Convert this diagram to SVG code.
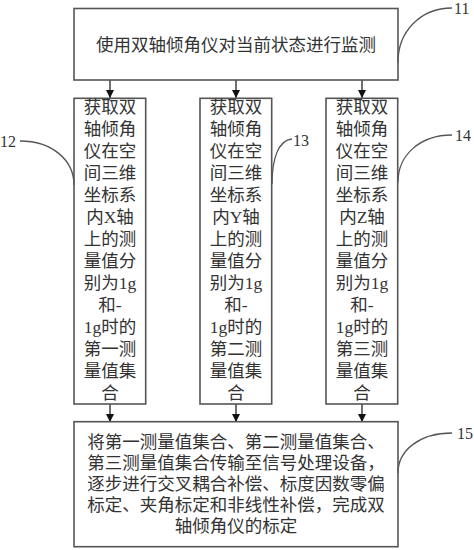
<svg xmlns="http://www.w3.org/2000/svg" width="474" height="550" viewBox="0 0 474 550">
<style>
.box{fill:#fff;stroke:#555;stroke-width:1.6}
.t{font-family:"Liberation Serif","Noto Sans CJK SC",serif;font-size:17.5px;fill:#333;text-anchor:middle}
.lbl{font-family:"Liberation Serif",serif;font-size:16px;fill:#333}
.c{fill:none;stroke:#555;stroke-width:1.3}
.a{fill:none;stroke:#222;stroke-width:1.3}
</style>
<defs>
<marker id="ah" markerWidth="8" markerHeight="8" refX="8" refY="4" orient="auto" markerUnits="userSpaceOnUse">
<path d="M0,0 L8,4 L0,8 Z" fill="#111"/>
</marker>
</defs>
<rect width="474" height="550" fill="#fff"/>
<g id="connectors">
<line class="a" x1="110" y1="80" x2="110" y2="98" marker-end="url(#ah)"/>
<line class="a" x1="236" y1="80" x2="236" y2="98" marker-end="url(#ah)"/>
<line class="a" x1="362" y1="80" x2="362" y2="98" marker-end="url(#ah)"/>
<line class="a" x1="110" y1="404" x2="110" y2="422" marker-end="url(#ah)"/>
<line class="a" x1="236" y1="404" x2="236" y2="422" marker-end="url(#ah)"/>
<line class="a" x1="362" y1="404" x2="362" y2="422" marker-end="url(#ah)"/>
</g>
<g id="node11">
<rect class="box" x="74" y="8.5" width="324" height="71.5"/>
<text class="t" x="236" y="51">使用双轴倾角仪对当前状态进行监测</text>
<path class="c" d="M398,62 C398,32 420,8 452,8"/>
<text class="lbl" x="454" y="14">11</text>
</g>
<g id="node12">
<rect class="box" x="74" y="98.3" width="71.7" height="305.7"/>
<text class="t" x="110" y="113">获取双</text>
<text class="t" x="110" y="135">轴倾角</text>
<text class="t" x="110" y="157">仪在空</text>
<text class="t" x="110" y="179">间三维</text>
<text class="t" x="110" y="201">坐标系</text>
<text class="t" x="110" y="223">内X轴</text>
<text class="t" x="110" y="245">上的测</text>
<text class="t" x="110" y="267">量值分</text>
<text class="t" x="110" y="289">别为1g</text>
<text class="t" x="110" y="311">和-</text>
<text class="t" x="110" y="333">1g时的</text>
<text class="t" x="110" y="355">第一测</text>
<text class="t" x="110" y="377">量值集</text>
<text class="t" x="110" y="399">合</text>
<path class="c" d="M20,141 C52,141 74,160 74,185"/>
<text class="lbl" x="0" y="147">12</text>
</g>
<g id="node13">
<rect class="box" x="200" y="98.3" width="71.7" height="305.7"/>
<text class="t" x="236" y="113">获取双</text>
<text class="t" x="236" y="135">轴倾角</text>
<text class="t" x="236" y="157">仪在空</text>
<text class="t" x="236" y="179">间三维</text>
<text class="t" x="236" y="201">坐标系</text>
<text class="t" x="236" y="223">内Y轴</text>
<text class="t" x="236" y="245">上的测</text>
<text class="t" x="236" y="267">量值分</text>
<text class="t" x="236" y="289">别为1g</text>
<text class="t" x="236" y="311">和-</text>
<text class="t" x="236" y="333">1g时的</text>
<text class="t" x="236" y="355">第二测</text>
<text class="t" x="236" y="377">量值集</text>
<text class="t" x="236" y="399">合</text>
<path class="c" d="M272,184 C272,160 278,140 292,139"/>
<text class="lbl" x="293" y="146">13</text>
</g>
<g id="node14">
<rect class="box" x="326" y="98.3" width="71.7" height="305.7"/>
<text class="t" x="362" y="113">获取双</text>
<text class="t" x="362" y="135">轴倾角</text>
<text class="t" x="362" y="157">仪在空</text>
<text class="t" x="362" y="179">间三维</text>
<text class="t" x="362" y="201">坐标系</text>
<text class="t" x="362" y="223">内Z轴</text>
<text class="t" x="362" y="245">上的测</text>
<text class="t" x="362" y="267">量值分</text>
<text class="t" x="362" y="289">别为1g</text>
<text class="t" x="362" y="311">和-</text>
<text class="t" x="362" y="333">1g时的</text>
<text class="t" x="362" y="355">第三测</text>
<text class="t" x="362" y="377">量值集</text>
<text class="t" x="362" y="399">合</text>
<path class="c" d="M398,182 C398,155 420,135 452,135"/>
<text class="lbl" x="455" y="141">14</text>
</g>
<g id="node15">
<rect class="box" x="74" y="421.7" width="324" height="125"/>
<text class="t" x="236" y="448">将第一测量值集合、第二测量值集合、</text>
<text class="t" x="236" y="469">第三测量值集合传输至信号处理设备，</text>
<text class="t" x="236" y="490">逐步进行交叉耦合补偿、标度因数零偏</text>
<text class="t" x="236" y="511">标定、夹角标定和非线性补偿，完成双</text>
<text class="t" x="236" y="532">轴倾角仪的标定</text>
<path class="c" d="M398,473 C398,450 420,433 452,433"/>
<text class="lbl" x="457" y="439">15</text>
</g>
</svg>
